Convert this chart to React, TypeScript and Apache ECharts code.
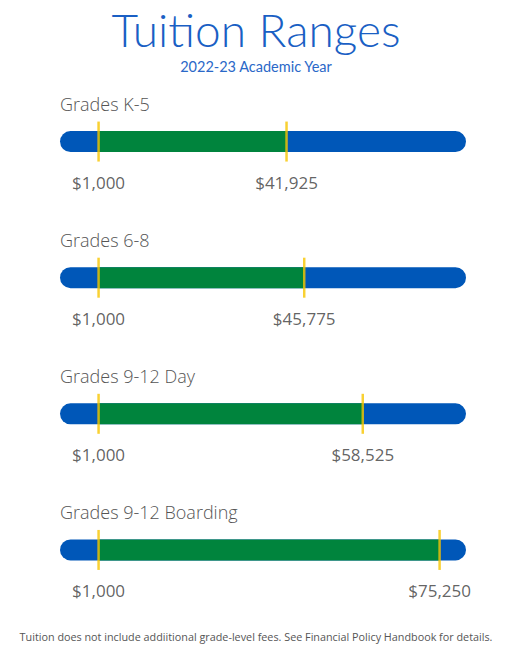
import React, { useEffect, useRef } from 'react';
import * as echarts from 'echarts';

// grade bands, top to bottom
const categories = ['Grades K-5', 'Grades 6-8', 'Grades 9-12 Day', 'Grades 9-12 Boarding'];
const tuitionLow = [1000, 1000, 1000, 1000];
const tuitionHigh = [41925, 45775, 58525, 75250];

// the blue track runs past both ends of the ranges
const axisMin = -7400;
const axisMax = 81000;
const trackLeft = [axisMin, axisMin, axisMin, axisMin];
const trackRight = [axisMax, axisMax, axisMax, axisMax];

const BLUE = '#0057b8';
const GREEN = '#00843d';
const YELLOW = '#f7c600';

const money = (v: number) => '$' + v.toLocaleString('en-US');

export default function App() {
  const chartRef = useRef<HTMLDivElement>(null);

  useEffect(() => {
    if (!chartRef.current) return;
    document.body.style.margin = '0';
    const myChart = echarts.init(chartRef.current, null, { renderer: 'svg' });

    const markers: any[] = [];
    categories.forEach((c, i) => {
      markers.push([tuitionLow[i], c]);
      markers.push([tuitionHigh[i], c]);
    });

    const option = {
      animation: false,
      title: {
        text: 'Tuition Ranges',
        subtext: '2022-23 Academic Year',
        left: 'center',
        top: 1,
        itemGap: 7,
        textStyle: { fontFamily: 'Lato', fontWeight: 300, fontSize: 46, color: '#1a5fc4' },
        subtextStyle: { fontFamily: 'Lato', fontSize: 14.5, color: '#2a68c8' },
      },
      grid: { left: 60, right: 46, top: 73.5, bottom: 36 },
      xAxis: {
        type: 'value',
        min: axisMin,
        max: axisMax,
        show: false,
      },
      yAxis: {
        type: 'category',
        data: categories,
        inverse: true,
        axisLine: { show: false },
        axisTick: { show: false },
        axisLabel: {
          inside: true,
          margin: 0,
          verticalAlign: 'bottom',
          padding: [0, 0, 29, 0],
          fontFamily: 'Open Sans',
          fontWeight: 300,
          fontSize: 18,
          color: '#555',
        },
      },
      series: [
        {
          type: 'bar',
          stack: 'track',
          data: trackRight,
          barWidth: 21,
          barGap: '-100%',
          itemStyle: { color: BLUE, borderRadius: [0, 10.5, 10.5, 0] },
        },
        {
          type: 'bar',
          stack: 'track',
          data: trackLeft,
          barWidth: 21,
          itemStyle: { color: BLUE, borderRadius: [10.5, 0, 0, 10.5] },
        },
        {
          type: 'bar',
          stack: 'range',
          data: tuitionLow,
          barWidth: 21,
          itemStyle: { color: 'transparent' },
        },
        {
          type: 'bar',
          stack: 'range',
          data: tuitionHigh.map((h, i) => h - tuitionLow[i]),
          barWidth: 21,
          itemStyle: { color: GREEN },
        },
        {
          type: 'scatter',
          data: markers,
          symbol: 'rect',
          symbolSize: [2.5, 40],
          itemStyle: { color: YELLOW },
          z: 5,
          label: {
            show: true,
            position: 'bottom',
            distance: 12,
            formatter: (p: any) => money(p.value[0]),
            fontFamily: 'Open Sans',
            fontSize: 17,
            color: '#3a3a3a',
          },
        },
      ],
      graphic: [
        {
          type: 'text',
          left: 'center',
          top: 631,
          style: {
            text: 'Tuition does not include addiitional grade-level fees. See Financial Policy Handbook for details.',
            fontFamily: 'Open Sans',
            fontSize: 10.8,
            fill: '#555',
          },
        },
      ],
    };

    myChart.setOption(option);
    return () => myChart.dispose();
  }, []);

  return <div ref={chartRef} style={{ width: '512px', height: '654px' }} />;
}
